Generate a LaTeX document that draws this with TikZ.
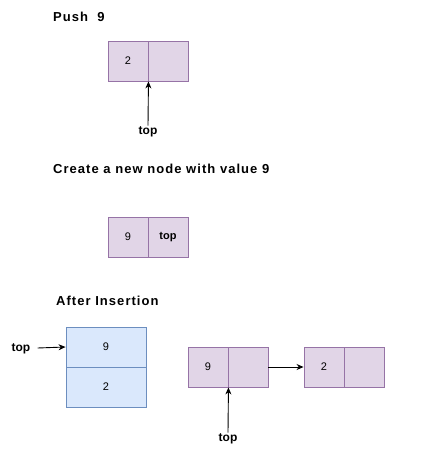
\documentclass[tikz,border=0pt]{standalone}
\usepackage{fontspec}
\setmainfont{Liberation Sans}
\newfontfamily\headfont[LetterSpace=8]{Liberation Sans}
\usetikzlibrary{arrows.meta}
\definecolor{listfill}{HTML}{E1D5E7}
\definecolor{listdraw}{HTML}{9673A6}
\definecolor{stackfill}{HTML}{DAE8FC}
\definecolor{stackdraw}{HTML}{6C8EBF}
\tikzset{
  cell/.style={draw=listdraw, fill=listfill, line width=0.9pt, minimum width=40pt,
               minimum height=40pt, inner sep=0pt, font=\fontsize{11}{13}\selectfont},
  slot/.style={draw=stackdraw, fill=stackfill, line width=0.9pt, minimum width=80pt,
               minimum height=40pt, inner sep=0pt, font=\fontsize{11}{13}\selectfont},
  heading/.style={anchor=west, inner sep=0pt, font=\headfont\fontsize{13}{15}\selectfont\bfseries},
  ptr/.style={font=\fontsize{12}{14}\selectfont\bfseries, inner sep=1pt},
  link/.style={-{Stealth[length=7pt,width=6pt]}, line width=0.9pt}
}
\begin{document}
\begin{tikzpicture}[x=1pt, y=-1pt]
      \useasboundingbox (0,0) rectangle (446,455);
      % push 9
      \node [heading] (push) at (53,17) {Push\ \ 9};
      \node [cell] (old) at (128,61) {2};
      \node [cell] (oldnext) at (168,61) {};
      \node [ptr] (top1) at (148,132) {top};
      \draw [link] (top1.north) -- (old.south east);
      % new node
      \node [heading] (create) at (53,169) {Create a new node with value 9};
      \node [cell] (new) at (128,237) {9};
      \node [cell, font=\fontsize{11}{13}\selectfont\bfseries] (newnext) at (168,237) {top};
      % after insertion
      \node [heading] (after) at (56,301) {After Insertion};
      \node [slot] (s9) at (106,347) {9};
      \node [slot] (s2) at (106,387) {2};
      \node [ptr] (top2) at (21,349) {top};
      \draw [link] (top2.east) ++(6,-1) coordinate (t2) (t2) -- (s9.west);
      \node [cell] (a) at (208,367) {9};
      \node [cell] (anext) at (248,367) {};
      \node [cell] (b) at (324,367) {2};
      \node [cell] (bnext) at (364,367) {};
      \draw [link] (anext.east) -- (b.west);
      \node [ptr] (top3) at (228,439) {top};
      \draw [link] (top3.north) -- (a.south east);
\end{tikzpicture}
\end{document}
